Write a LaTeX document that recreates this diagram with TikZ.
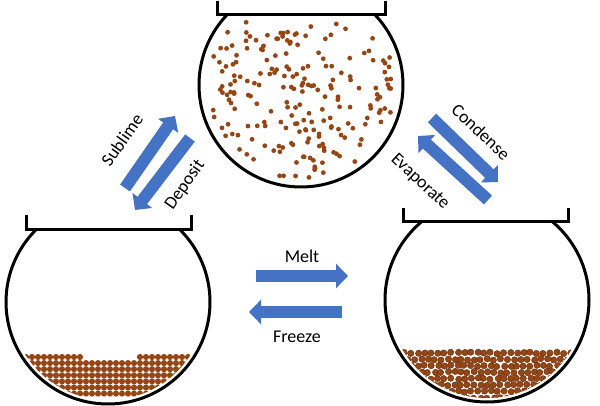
\documentclass[tikz,border=0pt]{standalone}
\usepackage{fontspec}
\setmainfont{Carlito}
\usetikzlibrary{arrows.meta}
\begin{document}
\begin{tikzpicture}[x=1pt,y=-1pt,
  glass/.style={line width=3pt,black},
  blk/.style={line width=12pt,color={rgb,255:red,68;green,114;blue,196},-{Triangle[width=24pt,length=12pt]}},
  lbl/.style={font=\fontsize{18}{20}\selectfont,inner sep=1pt},
  dot/.style={fill={rgb,255:red,150;green,70;blue,20}}]
\useasboundingbox (0,0) rectangle (600,406);
\pgfmathsetseed{11}
% ---- top flask
\coordinate (tc) at (301,85);
\begin{scope}
\clip (196,15) rectangle (406,200);
\draw[glass] (tc) circle (102);
\end{scope}
\draw[glass] (217,1) -- (217,15) -- (385,15) -- (385,1);
\foreach \i in {1,...,230}{
  \pgfmathsetmacro{\rr}{94*sqrt(rnd)}
  \pgfmathsetmacro{\aa}{360*rnd}
  \pgfmathsetmacro{\yy}{85+\rr*sin(\aa)}
  \pgfmathsetmacro{\xx}{301+\rr*cos(\aa)}
  \ifdim\yy pt>22pt \fill[dot] (\xx,\yy) circle (2.4); \fi
}
% ---- left flask
\begin{scope}
\clip (0,230) rectangle (220,406);
\draw[glass] (108,302) circle (102);
\end{scope}
\draw[glass] (26,215) -- (26,230) -- (191,230) -- (191,215);
\begin{scope}
\clip (108,302) circle (98);
\foreach \r in {0,...,6}{
  \foreach \c in {0,...,28}{
    \pgfmathsetmacro{\xx}{26+\c*6.0}
    \pgfmathsetmacro{\yy}{357+\r*6.1}
    \pgfmathtruncatemacro{\skip}{(\r==0)*(\xx>80)*(\xx<138)}
    \ifnum\skip=0 \fill[dot] (\xx,\yy) circle (3.1); \fi
  }
}
\end{scope}
% ---- right flask
\begin{scope}
\clip (380,222) rectangle (600,406);
\draw[glass] (487,300) circle (102);
\end{scope}
\draw[glass] (403,208) -- (403,222) -- (568,222) -- (568,208);
\begin{scope}
\clip (487,300) circle (98);
\foreach \r in {0,...,7}{
  \foreach \c in {0,...,26}{
    \pgfmathsetmacro{\xx}{405+\c*6.6+3.3*mod(\r,2)+1.0*rand}
    \pgfmathsetmacro{\yy}{353+\r*6.4+0.8*rand}
    \fill[dot,draw={rgb,255:red,100;green,45;blue,10},line width=0.4pt] (\xx,\yy) circle (3.2);
  }
}
\end{scope}
% ---- arrows
\coordinate (m1) at (256,276); \coordinate (m2) at (348,276);
\coordinate (f1) at (342,312); \coordinate (f2) at (249,312);
\draw[blk] (m1) -- (m2);
\draw[blk] (f1) -- (f2);
\coordinate (s1) at (125,188); \coordinate (s2) at (175,116);
\coordinate (d1) at (190,138); \coordinate (d2) at (135,210);
\draw[blk] (s1) -- (s2);
\draw[blk] (d1) -- (d2);
\coordinate (c1) at (432,118); \coordinate (c2) at (498,182);
\coordinate (e1) at (488,200); \coordinate (e2) at (418,136);
\draw[blk] (c1) -- (c2);
\draw[blk] (e1) -- (e2);
% ---- labels
\node[lbl] (melt) at (302,256) {Melt};
\node[lbl] (freeze) at (297,337) {Freeze};
\node[lbl,rotate=55] (sub) at (122,140) {Sublime};
\node[lbl,rotate=55] (dep) at (185,185) {Deposit};
\node[lbl,rotate=-43] (con) at (481,132) {Condense};
\node[lbl,rotate=-43] (eva) at (420,182) {Evaporate};
\end{tikzpicture}
\end{document}
